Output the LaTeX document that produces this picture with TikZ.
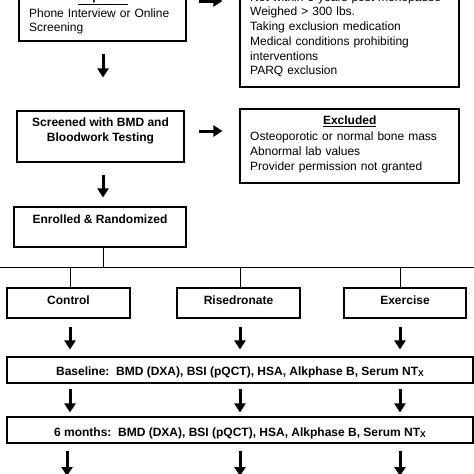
\documentclass[tikz,border=0pt]{standalone}
\usepackage{fontspec}
\setmainfont{Liberation Sans}
\usetikzlibrary{arrows.meta}
\begin{document}
\begin{tikzpicture}[x=1pt,y=-1pt,
  box/.style={draw, line width=1.1pt, inner sep=0pt},
  txt/.style={font=\fontsize{12}{14.75}\selectfont, inner sep=0pt},
  btxt/.style={font=\fontsize{12}{15}\selectfont\bfseries, inner sep=0pt},
  bigarrow/.style={line width=3pt, -{Triangle[width=11pt,length=9pt]}},
  thinline/.style={line width=0.9pt}]
\useasboundingbox (0,0) rectangle (474,474);
\clip (0,0) rectangle (474,474);
\fill[white] (0,0) rectangle (474,474);

% boxes
\node[box, minimum width=167, minimum height=56] (rec) at (102.5,13) {};
\node[box, minimum width=219, minimum height=101] (excla) at (349.5,36.5) {};
\node[box, minimum width=167, minimum height=51] (scr) at (100.5,136.5) {};
\node[box, minimum width=219, minimum height=74] (exclb) at (349.5,146) {};
\node[box, minimum width=172, minimum height=40] (enr) at (100,227) {};
\node[box, minimum width=123, minimum height=30] (ctrl) at (68.5,303) {};
\node[box, minimum width=123, minimum height=30] (rise) at (238.5,303) {};
\node[box, minimum width=122, minimum height=30] (exer) at (405,303) {};
\node[box, minimum width=466, minimum height=26] (base) at (240,370) {};
\node[box, minimum width=466, minimum height=26] (six) at (240,430) {};

% texts
\node[txt, anchor=north west, text width=147, align=left] (rectxt) at (29,-10.3)
  {{\centering\strut\underline{\textbf{Inquiries}}\par}\vspace{2.2pt}
   Phone Interview or Online\\Screening};
\node[txt, anchor=north west, text width=205, align=left] (exclatxt) at (250,-9.3)
  {\strut Not within 5 years post menopause\\
   Weighed > 300 lbs.\\
   Taking exclusion medication\\
   Medical conditions prohibiting\\
   interventions\\
   PARQ exclusion};
\node[btxt, anchor=north, align=center] (scrtxt) at (100.5,116)
  {\strut Screened with BMD and\\Bloodwork Testing};
\node[txt, font=\fontsize{12}{15.3}\selectfont, anchor=north west, text width=199, align=left] (exclbtxt) at (250,113.8)
  {{\centering\strut\underline{\textbf{Excluded}}\par}
   Osteoporotic or normal bone mass\\
   Abnormal lab values\\
   Provider permission not granted};
\node[btxt, anchor=base] (enrtxt) at (100,223.5) {Enrolled \& Randomized};
\node[btxt, anchor=base] (ctrltxt) at (68.5,304) {Control};
\node[btxt, anchor=base] (risetxt) at (238.5,304) {Risedronate};
\node[btxt, anchor=base] (exertxt) at (405,304) {Exercise};
\node[btxt, anchor=base] (basetxt) at (240,375)
  {Baseline:\ \ BMD (DXA), BSI (pQCT), HSA, Alkphase B, Serum NT\raisebox{-1.2pt}{\fontsize{8.5}{9}\selectfont X}};
\node[btxt, anchor=base] (sixtxt) at (240,436)
  {6 months:\ \ BMD (DXA), BSI (pQCT), HSA, Alkphase B, Serum NT\raisebox{-1.2pt}{\fontsize{8.5}{9}\selectfont X}};

% helper coordinates
\coordinate (ya) at (0,1);
\coordinate (yb) at (0,131);
\coordinate (xl) at (103,0);
\coordinate (ca) at (70,0);
\coordinate (cb) at (240,0);
\coordinate (cc) at (400,0);
\coordinate (hl) at (-5,267);
\coordinate (hr) at (480,267);
\coordinate (enda) at (67,476);
\coordinate (endb) at (240,476);
\coordinate (endc) at (400,476);

% arrows right
\draw[bigarrow, shorten <=12pt, shorten >=17pt] (rec.east |- ya) -- (excla.west |- ya);
\draw[bigarrow, shorten <=14pt, shorten >=17pt] (scr.east |- yb) -- (exclb.west |- yb);
% arrows down (left column)
\draw[bigarrow, shorten <=12pt, shorten >=33pt] (rec.south -| xl) -- (scr.north -| xl);
\draw[bigarrow, shorten <=12pt, shorten >=9pt] (scr.south -| xl) -- (enr.north -| xl);
% randomisation tree
\draw[thinline] (enr.south -| xl) -- (hl -| xl);
\draw[thinline] (hl) -- (hr);
\draw[thinline] (hl -| ca) -- (ctrl.north -| ca);
\draw[thinline] (hl -| cb) -- (rise.north -| cb);
\draw[thinline] (hl -| cc) -- (exer.north -| cc);
% arrows to baseline
\draw[bigarrow, shorten <=8pt, shorten >=7pt] (ctrl.south -| ca) -- (base.north -| ca);
\draw[bigarrow, shorten <=8pt, shorten >=7pt] (rise.south -| cb) -- (base.north -| cb);
\draw[bigarrow, shorten <=8pt, shorten >=7pt] (exer.south -| cc) -- (base.north -| cc);
% arrows to 6 months
\draw[bigarrow, shorten <=5pt, shorten >=4pt] (base.south -| ca) -- (six.north -| ca);
\draw[bigarrow, shorten <=5pt, shorten >=4pt] (base.south -| cb) -- (six.north -| cb);
\draw[bigarrow, shorten <=5pt, shorten >=4pt] (base.south -| cc) -- (six.north -| cc);
% arrows below
\draw[bigarrow, shorten <=7pt] (six.south -| enda) -- (enda);
\draw[bigarrow, shorten <=7pt] (six.south -| endb) -- (endb);
\draw[bigarrow, shorten <=7pt] (six.south -| endc) -- (endc);
\end{tikzpicture}
\end{document}
